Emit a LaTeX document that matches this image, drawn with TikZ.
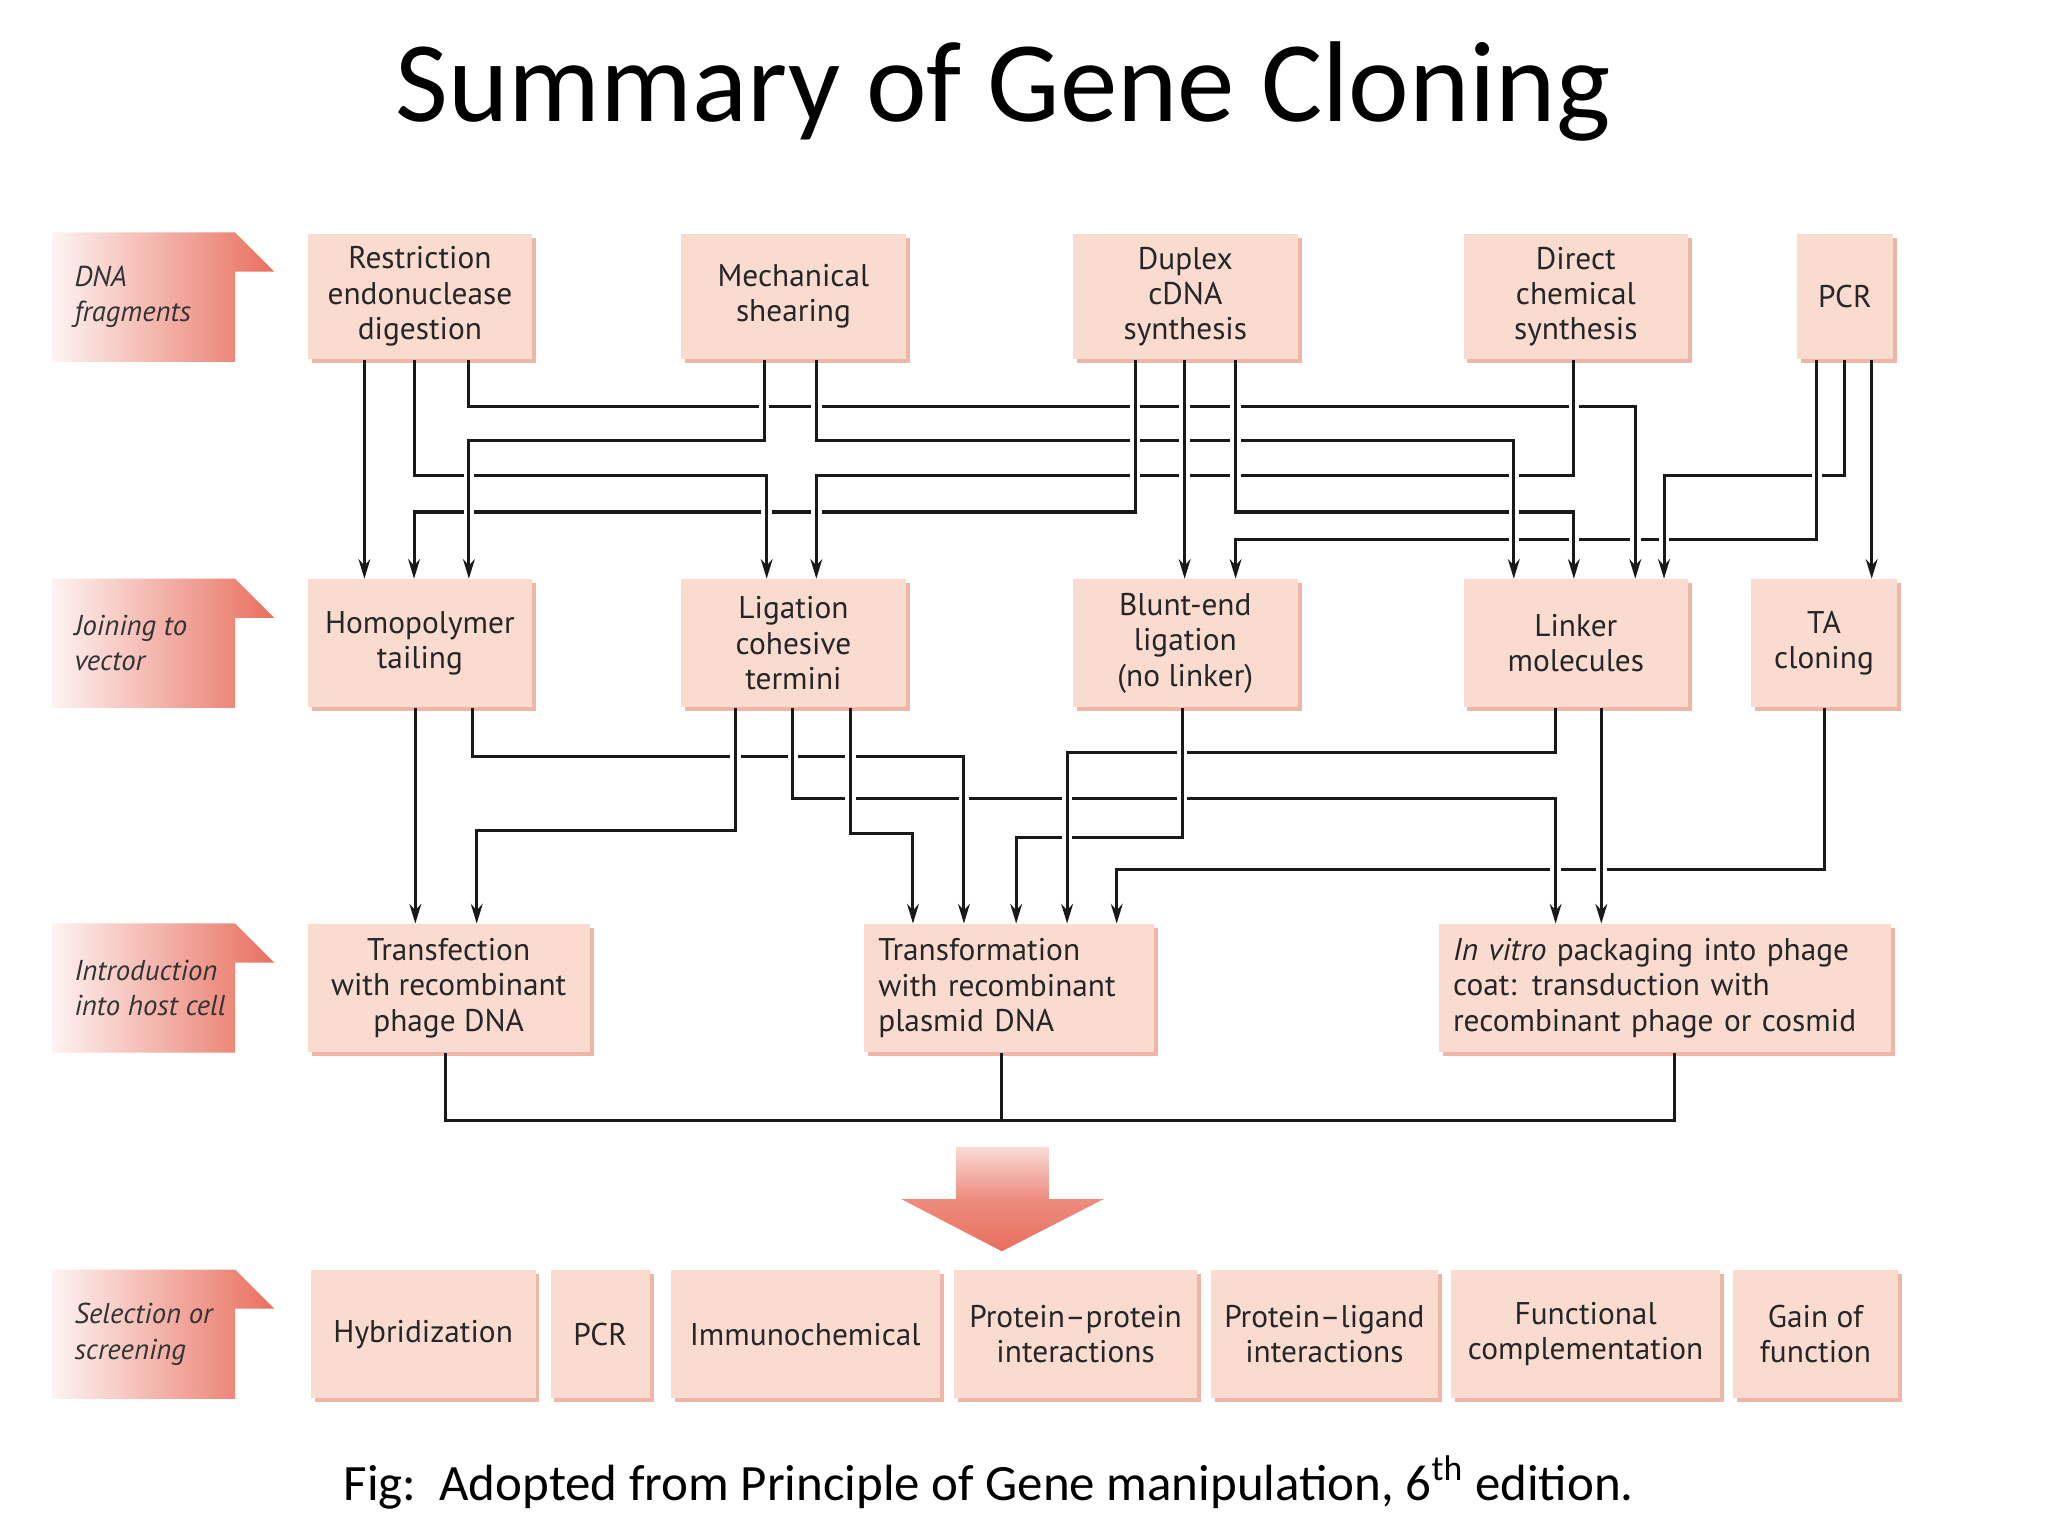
\documentclass[tikz,border=0pt]{standalone}
\usepackage{fontspec}
\setmainfont{PT Sans}
\newfontfamily\titlefont{Carlito}
\usetikzlibrary{arrows.meta,shadows}
\definecolor{boxfill}{HTML}{FADBD0}
\definecolor{boxshadow}{HTML}{EDB6A6}
\definecolor{sidered}{HTML}{E96F5E}
\newcommand\vfix[3]{\fill[white] (#1-4,#2+6) rectangle (#1+4,#3-18); \draw[ln] (#1,#2) -- (#1,#3-14);}
\begin{document}
\begin{tikzpicture}[x=0.5pt,y=-0.5pt,
  box/.style={fill=boxfill, inner sep=0pt, align=center, font=\fontsize{12}{13.5}\selectfont, text=black!85,
    drop shadow={shadow xshift=1.5pt, shadow yshift=-1.5pt, fill=boxshadow, opacity=1}},
  ln/.style={line width=1.15pt, line cap=butt, black!90},
  ar/.style={ln, -{Stealth[length=7.5pt,width=4.5pt]}},
  side/.style={left color=sidered!8, right color=sidered, draw=none},
  sidetxt/.style={anchor=west, align=left, font=\fontsize{11}{13.5}\selectfont\itshape, text=black!80}]
\useasboundingbox (0,0) rectangle (1568,1176);
\fill[white] (0,0) rectangle (1568,1176);
\node[font=\titlefont\fontsize{44}{48}\selectfont] (title) at (768,70) {Summary of Gene Cloning};
\node[font=\titlefont\fontsize{19.5}{22}\selectfont] (cap) at (757,1135) {Fig:\ \ Adopted from Principle of Gene manipulation, 6\textsuperscript{th} edition.};

% side labels
\foreach \t/\b/\nm/\txt in {178/277/sa/{DNA\\fragments},443/542/sb/{Joining to\\vector},707/806/sc/{Introduction\\into host cell},972/1071/sd/{Selection or\\screening}}{
  \shade[side] (40,\t) -- (180,\t) -- (210,\t+30) -- (180,\t+30) -- (180,\b) -- (40,\b) -- cycle;
  \node[sidetxt] (\nm) at (50,{(\t+\b)/2}) {\txt};
}

% row 1
\node[box, minimum width=86pt, minimum height=48pt] (r1) at (321.5,227) {Restriction\\endonuclease\\digestion};
\node[box, minimum width=86pt, minimum height=48pt] (r2) at (607.5,227) {Mechanical\\shearing};
\node[box, minimum width=86pt, minimum height=48pt] (r3) at (907.5,227) {Duplex\\cDNA\\synthesis};
\node[box, minimum width=86pt, minimum height=48pt] (r4) at (1206.5,227) {Direct\\chemical\\synthesis};
\node[box, minimum width=37pt, minimum height=48pt] (r5) at (1412.5,227) {PCR};
% row 2
\node[box, minimum width=86pt, minimum height=49pt] (j1) at (321.5,492.5) {Homopolymer\\tailing};
\node[box, minimum width=86pt, minimum height=49pt] (j2) at (607.5,492.5) {Ligation\\cohesive\\termini};
\node[box, minimum width=86pt, minimum height=49pt] (j3) at (907.5,492.5) {Blunt-end\\ligation\\(no linker)};
\node[box, minimum width=86pt, minimum height=49pt] (j4) at (1206.5,492.5) {Linker\\molecules};
\node[box, minimum width=56pt, minimum height=49pt] (j5) at (1396.5,492.5) {TA\\cloning};
% row 3
\node[box, minimum width=108pt, minimum height=49pt] (h1) at (343.5,756.5) {Transfection\\with recombinant\\phage DNA};
\node[box, minimum width=111pt, minimum height=49pt, align=left, text width=100pt] (h2) at (772.5,756.5) {Transformation\\with recombinant\\plasmid DNA};
\node[box, minimum width=173pt, minimum height=49pt, align=left, text width=162pt] (h3) at (1274.5,756.5) {\textit{In vitro} packaging into phage\\coat: transduction with\\recombinant phage or cosmid};
% row 4
\node[box, minimum width=86pt, minimum height=49pt] (s1) at (324,1021.5) {Hybridization};
\node[box, minimum width=38pt, minimum height=49pt] (s2) at (459.5,1021.5) {PCR};
\node[box, minimum width=103pt, minimum height=49pt] (s3) at (616.5,1021.5) {Immunochemical};
\node[box, minimum width=93pt, minimum height=49pt] (s4) at (823.5,1021.5) {Protein--protein\\interactions};
\node[box, minimum width=87pt, minimum height=49pt] (s5) at (1014,1021.5) {Protein--ligand\\interactions};
\node[box, minimum width=103pt, minimum height=49pt] (s6) at (1214,1021.5) {Functional\\complementation};
\node[box, minimum width=63pt, minimum height=49pt] (s7) at (1390,1021.5) {Gain of\\function};

% big arrow
\shade[top color=sidered!25, bottom color=sidered, middle color=sidered!80] (732,878) -- (803,878) -- (803,918) -- (845,918) -- (767,958) -- (690,918) -- (732,918) -- cycle;

% connectors row1 -> row2
\draw[ar] (279,0 |- r1.south) -- (279,0 |- j1.north);
\draw[ar] (317,0 |- r1.south) |- (587,364) -- (587,0 |- j2.north);
\draw[ar] (359,0 |- r1.south) |- (1252,311) -- (1252,0 |- j4.north);
\draw[ar] (585,0 |- r2.south) |- (359,337) -- (359,0 |- j1.north);
\draw[ar] (625,0 |- r2.south) |- (1159,337) -- (1159,0 |- j4.north);
\draw[ar] (869,0 |- r3.south) |- (317,392) -- (317,0 |- j1.north);
\draw[ar] (907,0 |- r3.south) -- (907,0 |- j3.north);
\draw[ar] (946,0 |- r3.south) |- (1205,392) -- (1205,0 |- j4.north);
\draw[ar] (1205,0 |- r4.south) |- (625,364) -- (625,0 |- j2.north);
\draw[ar] (1391,0 |- r5.south) |- (946,413) -- (946,0 |- j3.north);
\draw[ar] (1412,0 |- r5.south) |- (1274,364) -- (1274,0 |- j4.north);
\draw[ar] (1433,0 |- r5.south) -- (1433,0 |- j5.north);
\vfix{279}{276}{443}\vfix{317}{276}{364}\vfix{587}{364}{443}\vfix{359}{276}{311}\vfix{1252}{311}{443}
\vfix{585}{276}{337}\vfix{359}{337}{443}\vfix{625}{276}{337}\vfix{1159}{337}{443}\vfix{869}{276}{392}
\vfix{317}{392}{443}\vfix{907}{276}{443}\vfix{946}{276}{392}\vfix{1205}{392}{443}\vfix{1205}{276}{364}
\vfix{625}{364}{443}\vfix{1391}{276}{413}\vfix{946}{413}{443}\vfix{1412}{276}{364}\vfix{1274}{364}{443}
\vfix{1433}{276}{443}

% connectors row2 -> row3
\draw[ar] (318,0 |- j1.south) -- (318,0 |- h1.north);
\draw[ar] (362,0 |- j1.south) |- (738,579) -- (738,0 |- h2.north);
\draw[ar] (563,0 |- j2.south) |- (365,636) -- (365,0 |- h1.north);
\draw[ar] (607,0 |- j2.south) |- (1191,611) -- (1191,0 |- h3.north);
\draw[ar] (651,0 |- j2.south) |- (699,638) -- (699,0 |- h2.north);
\draw[ar] (905,0 |- j3.south) |- (778,641) -- (778,0 |- h2.north);
\draw[ar] (1191,0 |- j4.south) |- (817,576) -- (817,0 |- h2.north);
\draw[ar] (1226,0 |- j4.south) -- (1226,0 |- h3.north);
\draw[ar] (1397,0 |- j5.south) |- (855,666) -- (855,0 |- h2.north);
\vfix{318}{542}{707}\vfix{362}{542}{579}\vfix{738}{579}{707}\vfix{563}{542}{636}\vfix{365}{636}{707}
\vfix{607}{542}{611}\vfix{1191}{611}{707}\vfix{651}{542}{638}\vfix{699}{638}{707}\vfix{905}{542}{641}
\vfix{778}{641}{707}\vfix{1191}{542}{576}\vfix{817}{576}{707}\vfix{1226}{542}{707}\vfix{1397}{542}{666}
\vfix{855}{666}{707}

% row3 -> merge
\coordinate (m1) at (341,858);
\coordinate (m3) at (1282,858);
\draw[ln] (341,0 |- h1.south) -- (m1) -- (m3) -- (1282,0 |- h3.south);
\draw[ln] (767,0 |- h2.south) -- (767,0 |- m1);
\end{tikzpicture}
\end{document}
